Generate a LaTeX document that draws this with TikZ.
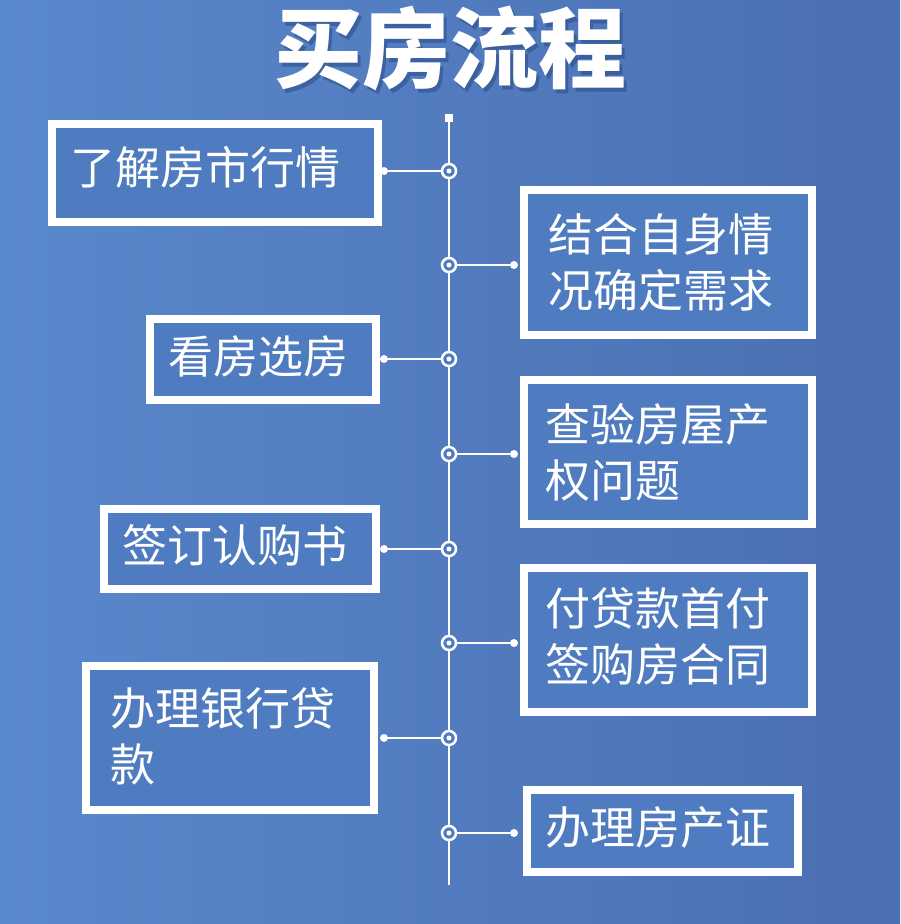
\documentclass[tikz,border=0pt]{standalone}
\usepackage{fontspec}
\newfontfamily\cjk{Noto Sans CJK SC}
\usetikzlibrary{calc}

\definecolor{bgleft}{HTML}{5A88CC}
\definecolor{bgright}{HTML}{4A6FB2}
\definecolor{boxfill}{HTML}{4F7CC0}
\definecolor{titleshade}{HTML}{2E4F8A}

\begin{document}
\begin{tikzpicture}[x=1pt, y=-1pt,
	stepbox/.style={draw=white, line width=8pt, fill=boxfill},
	steptext/.style={text=white, font=\cjk\fontsize{45}{56}\selectfont, align=left, anchor=north west, inner sep=0pt},
	link/.style={white, line width=2pt},
	knot/.style={circle, draw=white, line width=2.5pt, minimum size=14pt, inner sep=0pt},
	tip/.style={circle, fill=white, minimum size=8pt, inner sep=0pt}]

	% background with a soft left-to-right gradient
	\shade[left color=bgleft, right color=bgright] (0,0) rectangle (900,924);
	\useasboundingbox (0,0) rectangle (900,924);

	% title with a dark offset copy as shadow
	\node[text=titleshade, opacity=0.6, font=\cjk\bfseries\fontsize{88}{88}\selectfont] (titleshadow) at (453,52) {买房流程};
	\node[text=white, font=\cjk\bfseries\fontsize{88}{88}\selectfont] (title) at (450,48) {买房流程};

	% timeline spine
	\node[fill=white, minimum size=8pt, inner sep=0pt] (top) at (449,118) {};
	\coordinate (bottom) at (449,885);
	\draw[link] (top) -- (bottom);

	% knots on the spine: name / y / side
	\foreach \n/\y/\s in {1/171/-1, 2/265/1, 3/359/-1, 4/454/1, 5/549/-1, 6/643/1, 7/738/-1, 8/833/1}{
		\node[knot, fill=boxfill] (k\n) at (449,\y) {};
		\node[tip, minimum size=5pt] at (k\n) {};
		\node[tip] (t\n) at ({449+\s*65},\y) {};
		\draw[link] (k\n) -- (t\n);
	}

	% step boxes
	\draw[stepbox] (52,124) rectangle (378,222);
	\node[steptext] (s1) at (70,146) {了解房市行情};
	\draw[stepbox] (524,190) rectangle (812,335);
	\node[steptext] (s2) at (548,213) {结合自身情\\况确定需求};
	\draw[stepbox] (150,319) rectangle (376,400);
	\node[steptext] (s3) at (168,335) {看房选房};
	\draw[stepbox] (524,380) rectangle (812,524);
	\node[steptext] (s4) at (545,403) {查验房屋产\\权问题};
	\draw[stepbox] (104,509) rectangle (376,589);
	\node[steptext] (s5) at (122,524) {签订认购书};
	\draw[stepbox] (524,568) rectangle (812,712);
	\node[steptext] (s6) at (545,587) {付贷款首付\\签购房合同};
	\draw[stepbox] (86,666) rectangle (374,810);
	\node[steptext] (s7) at (110,687) {办理银行贷\\款};
	\draw[stepbox] (527,790) rectangle (798,872);
	\node[steptext] (s8) at (545,806) {办理房产证};

\end{tikzpicture}
\end{document}
